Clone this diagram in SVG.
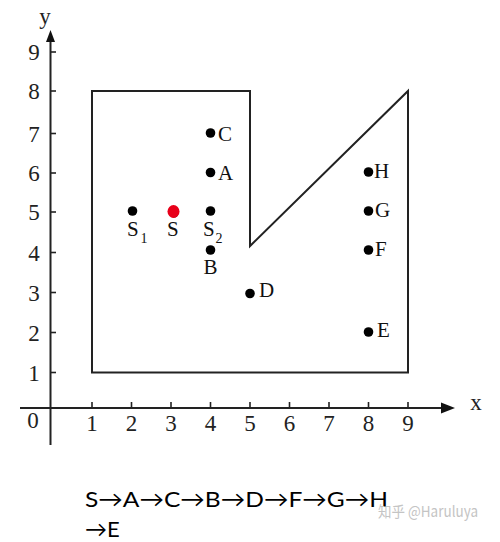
<svg xmlns="http://www.w3.org/2000/svg" width="500" height="542" viewBox="0 0 500 542">
<style>
.ax{stroke:#222;stroke-width:2;fill:none}
.tk{stroke:#222;stroke-width:1.6}
.num{font-family:"Liberation Serif",serif;font-size:23px;fill:#222;text-anchor:middle}
.lbl{font-family:"Liberation Serif",serif;font-size:21px;fill:#111}
.sub{font-family:"Liberation Serif",serif;font-size:14px;fill:#111}
.dot{fill:#000}
.path{font-family:Lato,"DejaVu Sans",sans-serif;font-size:22px;fill:#000}
.wm{font-family:"Noto Sans CJK SC","Noto Sans",sans-serif;font-size:15px;fill:#c4c4c4}
</style>
<rect width="500" height="542" fill="#fff"/>
<g id="axes">
<line class="ax" x1="20" y1="408" x2="444" y2="408"/>
<polygon points="441,402.5 455,408 441,413.5" fill="#111"/>
<line class="ax" x1="50.5" y1="445" x2="50.5" y2="40"/>
<polygon points="46,42 50.5,30 55,42" fill="#111"/>
<g class="tk">
<line x1="92" y1="408" x2="92" y2="402"/>
<line x1="131.5" y1="408" x2="131.5" y2="402"/>
<line x1="171" y1="408" x2="171" y2="402"/>
<line x1="210.5" y1="408" x2="210.5" y2="402"/>
<line x1="250" y1="408" x2="250" y2="402"/>
<line x1="289.5" y1="408" x2="289.5" y2="402"/>
<line x1="329" y1="408" x2="329" y2="402"/>
<line x1="368.5" y1="408" x2="368.5" y2="402"/>
<line x1="408" y1="408" x2="408" y2="402"/>
<line x1="50.5" y1="372.5" x2="56" y2="372.5"/>
<line x1="50.5" y1="332.5" x2="56" y2="332.5"/>
<line x1="50.5" y1="292.5" x2="56" y2="292.5"/>
<line x1="50.5" y1="252.5" x2="56" y2="252.5"/>
<line x1="50.5" y1="212" x2="56" y2="212"/>
<line x1="50.5" y1="173" x2="56" y2="173"/>
<line x1="50.5" y1="133.5" x2="56" y2="133.5"/>
<line x1="50.5" y1="91" x2="56" y2="91"/>
<line x1="50.5" y1="52" x2="56" y2="52"/>
</g>
<g class="num">
<text x="92" y="431">1</text>
<text x="131.5" y="431">2</text>
<text x="171" y="431">3</text>
<text x="210.5" y="431">4</text>
<text x="250" y="431">5</text>
<text x="289.5" y="431">6</text>
<text x="329" y="431">7</text>
<text x="368.5" y="431">8</text>
<text x="408" y="431">9</text>
<text x="33" y="428">0</text>
<text x="34" y="380.5">1</text>
<text x="34" y="340.5">2</text>
<text x="34" y="300.5">3</text>
<text x="34" y="260.5">4</text>
<text x="34" y="220">5</text>
<text x="34" y="181">6</text>
<text x="34" y="141.5">7</text>
<text x="34" y="99">8</text>
<text x="34" y="60">9</text>
<text x="45" y="24">y</text>
<text x="476" y="410">x</text>
</g>
</g>
<g id="region">
<polygon class="ax" points="92,372.5 92,91 250,91 250,246 408,91 408,372.5"/>
</g>
<g id="S1"><circle class="dot" cx="132.5" cy="211" r="4.8"/><text class="lbl" x="127" y="236">S</text><text class="sub" x="140.5" y="243">1</text></g>
<g id="S"><circle class="dot" cx="174" cy="213" r="4.5"/><ellipse cx="173.5" cy="211.5" rx="6" ry="6.5" fill="#e8001a"/><text class="lbl" x="167" y="236">S</text></g>
<g id="S2"><circle class="dot" cx="210.5" cy="211" r="4.8"/><text class="lbl" x="203" y="236">S</text><text class="sub" x="215.5" y="243">2</text></g>
<g id="C"><circle class="dot" cx="210.5" cy="133" r="4.8"/><text class="lbl" x="218" y="140.5">C</text></g>
<g id="A"><circle class="dot" cx="210.5" cy="172.5" r="4.8"/><text class="lbl" x="218" y="180">A</text></g>
<g id="B"><circle class="dot" cx="210.5" cy="250" r="4.8"/><text class="lbl" x="203.5" y="274">B</text></g>
<g id="D"><circle class="dot" cx="250" cy="293.5" r="4.8"/><text class="lbl" x="259" y="297">D</text></g>
<g id="H"><circle class="dot" cx="368.5" cy="172" r="4.8"/><text class="lbl" x="374" y="177.5">H</text></g>
<g id="G"><circle class="dot" cx="368.5" cy="211" r="4.8"/><text class="lbl" x="375" y="217">G</text></g>
<g id="F"><circle class="dot" cx="368.5" cy="250" r="4.8"/><text class="lbl" x="375" y="256">F</text></g>
<g id="E"><circle class="dot" cx="368.5" cy="332" r="4.8"/><text class="lbl" x="377" y="337">E</text></g>
<g id="caption">
<text class="path" x="85" y="507" textLength="303" lengthAdjust="spacingAndGlyphs">S→A→C→B→D→F→G→H</text>
<text class="path" x="85" y="537">→E</text>
<text class="wm" x="378" y="517" textLength="100" lengthAdjust="spacingAndGlyphs">知乎 @Haruluya</text>
</g>
</svg>
